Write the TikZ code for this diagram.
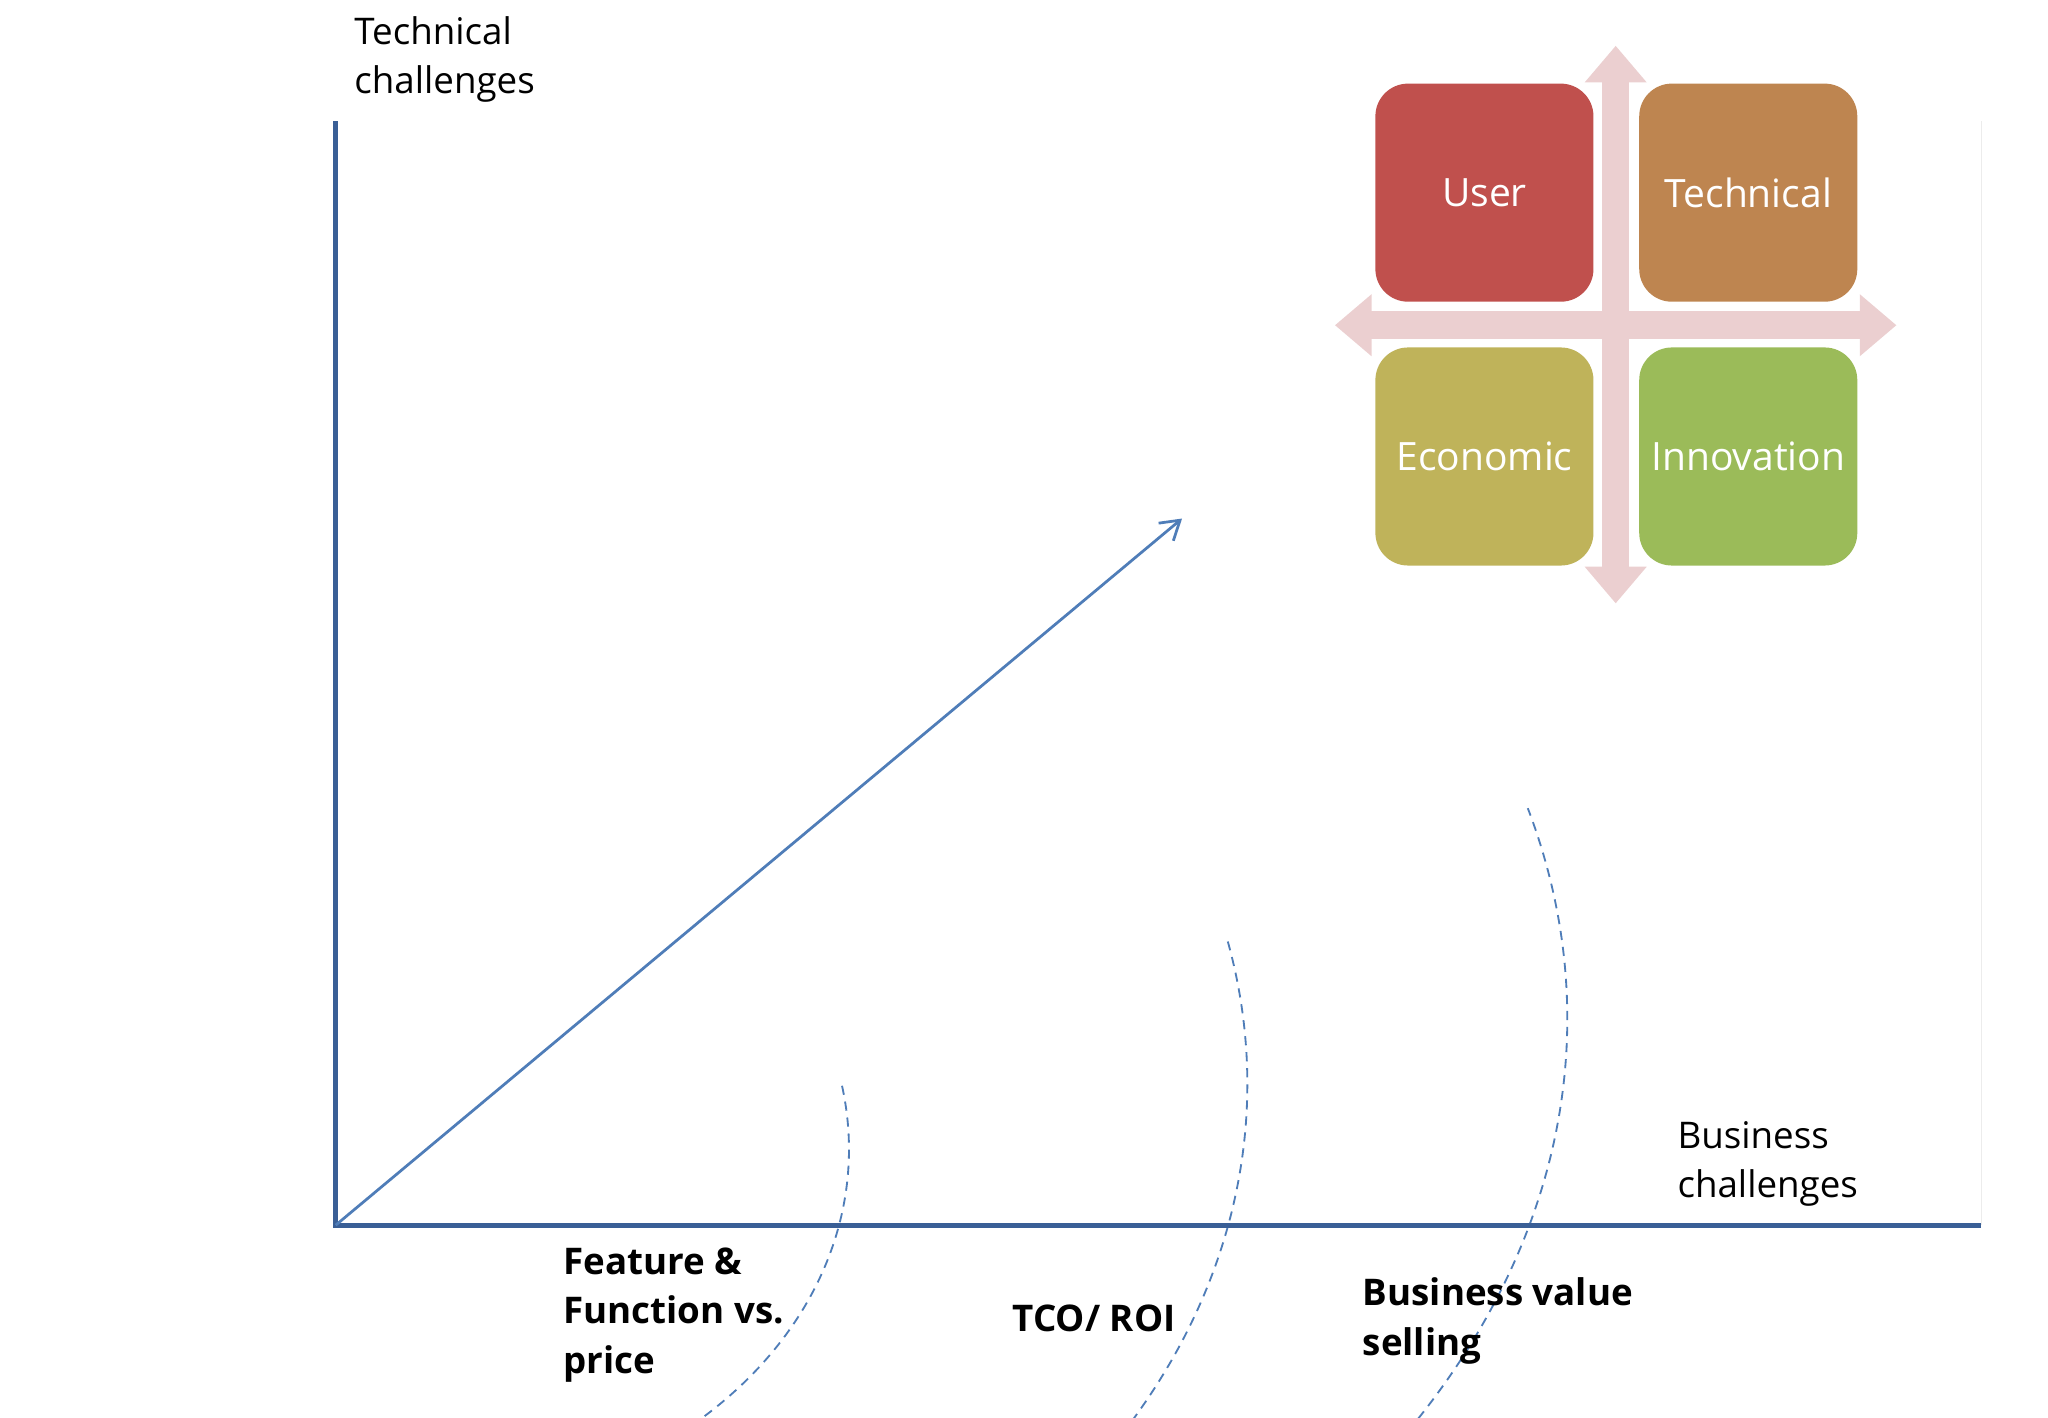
\documentclass[tikz,border=0pt]{standalone}
\usepackage{fontspec}
\setmainfont{Open Sans}
\usetikzlibrary{arrows.meta}
\definecolor{axis}{HTML}{3A5F96}
\definecolor{arcc}{HTML}{4F7DB8}
\definecolor{cross}{HTML}{EBCFD0}
\definecolor{cuser}{HTML}{C0504D}
\definecolor{ctech}{HTML}{BE8550}
\definecolor{ceco}{HTML}{BFB35A}
\definecolor{cinn}{HTML}{9BBB59}
\begin{document}
\begin{tikzpicture}[x=0.02cm,y=-0.02cm,
  lbl/.style={font=\fontsize{16}{21.6}\selectfont,align=left,anchor=north west,inner sep=0},
  blbl/.style={lbl,font=\fontsize{16}{21.6}\selectfont\bfseries},
  box/.style={rounded corners=0.5cm,minimum width=3.34cm,minimum height=3.34cm,text=white,font=\fontsize{17}{20}\selectfont,inner sep=0},
  arcs/.style={arcc,thick,dash pattern=on 4pt off 3pt},
  crossarr/.style={cross,line width=12pt,{Triangle[width=26pt,length=16pt]}-{Triangle[width=26pt,length=16pt]}}]
\useasboundingbox (0,0) rectangle (1568,1085);
\draw[gray!15] (1517,93) -- (1517,938);
% arcs
\draw[arcs] (250,780) ++(91:950 and 644) arc[start angle=91,end angle=-14.5,x radius=950,y radius=644];
\draw[arcs] (270,830) ++(91:685 and 525) arc[start angle=91,end angle=-12,x radius=685,y radius=525];
\draw[arcs] (300,880) ++(96.5:350 and 280) arc[start angle=96.5,end angle=-11,x radius=350,y radius=280];
% axes
\coordinate (o) at (257,938);
\coordinate (top) at (257,93);
\coordinate (right) at (1517,938);
\coordinate (tip) at (905,397);
\draw[axis,line width=2.2pt] (top) -- (o) -- (right);
\draw[arcc,line width=1.2pt,-{Straight Barb[length=8pt,width=10pt]}] (o) -- (tip);
% cross
\coordinate (vt) at (1237,35); \coordinate (vb) at (1237,462);
\coordinate (hl) at (1022,249); \coordinate (hr) at (1452,249);
\draw[crossarr] (vt) -- (vb);
\draw[crossarr] (hl) -- (hr);
\node[box,fill=cuser] (user) at (1136.5,147.5) {User};
\node[box,fill=ctech] (techb) at (1338.5,147.5) {Technical};
\node[box,fill=ceco] (eco) at (1136.5,349.5) {Economic};
\node[box,fill=cinn] (inn) at (1338.5,349.5) {Innovation};
% labels
\node[lbl] (tc) at (271,12) {Technical\\challenges};
\node[lbl] (bc) at (1284,858) {Business\\challenges};
\node[blbl] (ff) at (431,955) {Feature \&\\Function vs.\\price};
\node[blbl] (tco) at (775,999) {TCO/ ROI};
\node[blbl] (bv) at (1043,978) {Business value\\selling};
\end{tikzpicture}
\end{document}
